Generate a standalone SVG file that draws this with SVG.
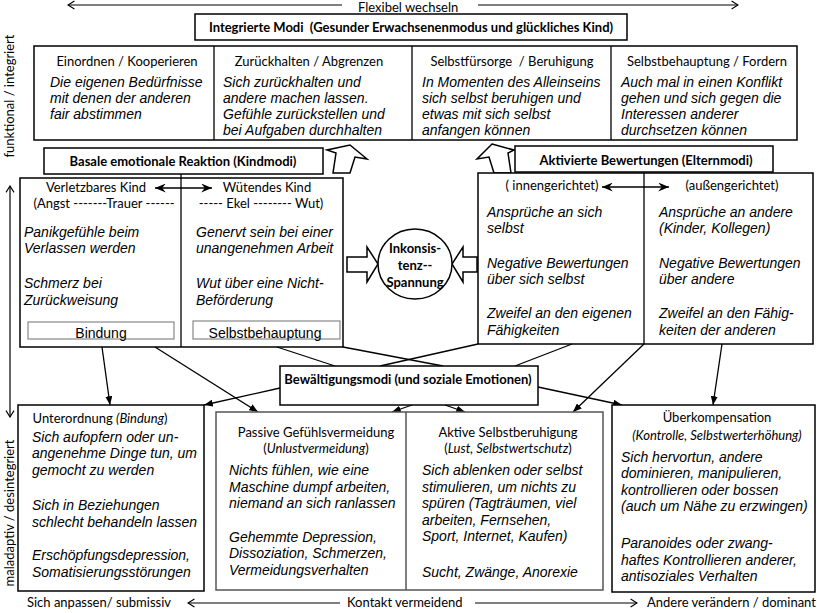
<svg xmlns="http://www.w3.org/2000/svg" width="817" height="613" viewBox="0 0 817 613">
<style>
.bg{fill:#fff}
.box{fill:#fff;stroke:#000;stroke-width:1.5}
.gbox{fill:#fff;stroke:#888;stroke-width:1.2}
.pbox{fill:#fff;stroke:#555;stroke-width:1.5}
.div{stroke:#000;stroke-width:1.3;fill:none}
.c{font-family:Lato,"Open Sans",sans-serif;font-size:13px;fill:#000}
.cb{font-family:Lato,"Open Sans",sans-serif;font-size:13px;font-weight:bold;fill:#000}
.i{font-family:"Liberation Sans",Arial,sans-serif;font-size:14px;font-style:italic;fill:#000}
.a{font-family:"Liberation Sans",Arial,sans-serif;font-size:14px;fill:#000}
.m{text-anchor:middle}
.ln{stroke:#000;stroke-width:1.3;fill:none}
.ax{stroke:#000;stroke-width:1.2;fill:none}
.hol{fill:#fff;stroke:#000;stroke-width:1.5;stroke-linejoin:miter}
</style>
<defs>
<marker id="ah" viewBox="0 0 10 8" refX="10" refY="4" markerWidth="9" markerHeight="7" markerUnits="userSpaceOnUse" orient="auto">
<path d="M0,0 L10,4 L0,8 z" fill="#000"/>
</marker>
<marker id="ch" viewBox="0 0 10 12" refX="9" refY="6" markerWidth="8" markerHeight="10" markerUnits="userSpaceOnUse" orient="auto-start-reverse">
<path d="M1,1 L9,6 L1,11" fill="none" stroke="#000" stroke-width="1.4"/>
</marker>
<marker id="st" viewBox="0 0 12 10" refX="12" refY="5" markerWidth="12" markerHeight="9" markerUnits="userSpaceOnUse" orient="auto-start-reverse">
<path d="M0,0 L12,5 L0,10 L4,5 z" fill="#000"/>
</marker>
</defs>
<rect class="bg" x="0" y="0" width="817" height="613"/>

<g id="axes">
<line class="ax" x1="342" y1="5" x2="68" y2="5" marker-end="url(#ch)"/>
<text class="c" x="358" y="12">Flexibel wechseln</text>
<line class="ax" x1="478" y1="5" x2="738" y2="5" marker-end="url(#ch)"/>
<line class="ax" x1="10" y1="186" x2="10" y2="417" marker-start="url(#ch)" marker-end="url(#ch)"/>
<text class="c m" transform="translate(14,96) rotate(-90)">funktional / integriert</text>
<text class="c m" transform="translate(14,513) rotate(-90)">maladaptiv / desintegriert</text>
<text class="c" x="27" y="607">Sich anpassen/ submissiv</text>
<line class="ax" x1="340" y1="603" x2="188" y2="603" marker-end="url(#ch)"/>
<text class="c" x="347" y="607">Kontakt vermeidend</text>
<line class="ax" x1="475" y1="603" x2="637" y2="603" marker-end="url(#ch)"/>
<text class="c" x="647" y="607">Andere verändern / dominant</text>
</g>

<g id="integrierte-modi">
<rect class="box" x="195" y="14" width="432" height="26"/>
<text class="cb m" x="411" y="32">Integrierte Modi&#160; (Gesunder Erwachsenenmodus und glückliches Kind)</text>
</g>

<g id="top-row">
<rect class="box" x="34" y="46" width="763" height="94"/>
<line class="div" x1="214" y1="46" x2="214" y2="140"/>
<line class="div" x1="412" y1="46" x2="412" y2="140"/>
<line class="div" x1="611" y1="46" x2="611" y2="140"/>
<text class="c m" x="127" y="66">Einordnen / Kooperieren</text>
<text class="i" x="50" y="87">Die eigenen Bedürfnisse</text>
<text class="i" x="50" y="103">mit denen der anderen</text>
<text class="i" x="50" y="119">fair abstimmen</text>
<text class="c m" x="309" y="66">Zurückhalten / Abgrenzen</text>
<text class="i" x="223" y="87">Sich zurückhalten und</text>
<text class="i" x="223" y="103">andere machen lassen.</text>
<text class="i" x="223" y="119">Gefühle zurückstellen und</text>
<text class="i" x="223" y="135">bei Aufgaben durchhalten</text>
<text class="c m" x="512" y="66">Selbstfürsorge&#160; / Beruhigung</text>
<text class="i" x="422" y="87">In Momenten des Alleinseins</text>
<text class="i" x="422" y="103">sich selbst beruhigen und</text>
<text class="i" x="422" y="119">etwas mit sich selbst</text>
<text class="i" x="422" y="135">anfangen können</text>
<text class="c m" x="707" y="66">Selbstbehauptung / Fordern</text>
<text class="i" x="621" y="87">Auch mal in einen Konflikt</text>
<text class="i" x="621" y="103">gehen und sich gegen die</text>
<text class="i" x="621" y="119">Interessen anderer</text>
<text class="i" x="621" y="135">durchsetzen können</text>
</g>

<g id="hollow-arrows">
<polygon class="hol" points="350,145 367,159 355,157 350,173 333,173 336,153 327,150"/>
<polygon class="hol" points="492,144 514,150 508,153 511,173 494,173 489,157 477,159"/>
<polygon class="hol" points="347,257 367,257 367,247 378,264 367,282 367,272 347,272"/>
<polygon class="hol" points="477,257 463,257 463,247 452,264 463,282 463,272 477,272"/>
</g>

<g id="kindmodi">
<rect class="box" x="44" y="148" width="279" height="26"/>
<text class="cb m" x="183" y="166">Basale emotionale Reaktion (Kindmodi)</text>
<rect class="box" x="20" y="178" width="323" height="169"/>
<line class="div" x1="181" y1="174" x2="181" y2="347"/>
<text class="c m" x="96" y="192">Verletzbares Kind</text>
<text class="c m" x="104" y="208">(Angst -------Trauer ------</text>
<text class="c m" x="267" y="192">Wütendes Kind</text>
<text class="c m" x="261" y="208">----- Ekel -------- Wut)</text>
<line class="ln" x1="155" y1="188" x2="212" y2="188" marker-start="url(#st)" marker-end="url(#st)"/>
<text class="i" x="24" y="237">Panikgefühle beim</text>
<text class="i" x="24" y="253">Verlassen werden</text>
<text class="i" x="24" y="288">Schmerz bei</text>
<text class="i" x="24" y="305">Zurückweisung</text>
<text class="i" x="196" y="237">Genervt sein bei einer</text>
<text class="i" x="196" y="253">unangenehmen Arbeit</text>
<text class="i" x="196" y="288">Wut über eine Nicht-</text>
<text class="i" x="196" y="305">Beförderung</text>
<rect class="gbox" x="28" y="322" width="146" height="17"/>
<text class="a m" x="101" y="338">Bindung</text>
<rect class="gbox" x="193" y="321" width="147" height="18"/>
<text class="a m" x="265" y="338">Selbstbehauptung</text>
</g>

<g id="inkonsistenz">
<ellipse class="box" cx="415" cy="264" rx="37" ry="35"/>
<text class="cb m" x="415" y="253">Inkonsis-</text>
<text class="cb m" x="415" y="270">tenz--</text>
<text class="cb m" x="415" y="287">Spannung</text>
</g>

<g id="elternmodi">
<rect class="box" x="515" y="146" width="258" height="26"/>
<text class="cb m" x="646" y="165">Aktivierte Bewertungen (Elternmodi)</text>
<rect class="box" x="478" y="173" width="335" height="171"/>
<line class="div" x1="644" y1="173" x2="644" y2="344"/>
<text class="c m" x="552" y="190">( innengerichtet)</text>
<text class="c m" x="732" y="190">(außengerichtet)</text>
<line class="ln" x1="602" y1="187" x2="669" y2="187" marker-start="url(#st)" marker-end="url(#st)"/>
<text class="i" x="487" y="217">Ansprüche an sich</text>
<text class="i" x="487" y="233">selbst</text>
<text class="i" x="487" y="268">Negative Bewertungen</text>
<text class="i" x="487" y="284">über sich selbst</text>
<text class="i" x="487" y="318">Zweifel an den eigenen</text>
<text class="i" x="487" y="335">Fähigkeiten</text>
<text class="i" x="659" y="217">Ansprüche an andere</text>
<text class="i" x="659" y="233">(Kinder, Kollegen)</text>
<text class="i" x="659" y="268">Negative Bewertungen</text>
<text class="i" x="659" y="284">über andere</text>
<text class="i" x="659" y="318">Zweifel an den Fähig-</text>
<text class="i" x="659" y="335">keiten der anderen</text>
</g>

<g id="connectors">
<line class="ln" x1="277" y1="347" x2="335" y2="366"/>
<line class="ln" x1="343" y1="347" x2="443" y2="366"/>
<line class="ln" x1="478" y1="344" x2="380" y2="366"/>
<line class="ln" x1="572" y1="344" x2="515" y2="366"/>
<line class="ln" x1="102" y1="347" x2="110" y2="405" marker-end="url(#ah)"/>
<line class="ln" x1="155" y1="347" x2="258" y2="412" marker-end="url(#ah)"/>
<line class="ln" x1="280" y1="388" x2="204" y2="405" marker-end="url(#ah)"/>
<line class="ln" x1="412" y1="405" x2="392" y2="412" marker-end="url(#ah)"/>
<line class="ln" x1="445" y1="405" x2="465" y2="412" marker-end="url(#ah)"/>
<line class="ln" x1="538" y1="387" x2="622" y2="405" marker-end="url(#ah)"/>
<line class="ln" x1="644" y1="344" x2="573" y2="412" marker-end="url(#ah)"/>
<line class="ln" x1="722" y1="344" x2="713" y2="405" marker-end="url(#ah)"/>
</g>

<g id="bewaeltigungsmodi">
<rect class="box" x="280" y="366" width="258" height="39"/>
<text class="cb m" x="408" y="384">Bewältigungsmodi (und soziale Emotionen)</text>
</g>

<g id="unterordnung">
<rect class="box" x="18" y="405" width="186" height="186"/>
<text class="c m" x="100" y="423">Unterordnung <tspan font-style="italic">(Bindung</tspan>)</text>
<text class="i" x="32" y="442">Sich aufopfern oder un-</text>
<text class="i" x="32" y="458">angenehme Dinge tun, um</text>
<text class="i" x="32" y="475">gemocht zu werden</text>
<text class="i" x="32" y="510">Sich in Beziehungen</text>
<text class="i" x="32" y="527">schlecht behandeln lassen</text>
<text class="i" x="32" y="560">Erschöpfungsdepression,</text>
<text class="i" x="32" y="577">Somatisierungsstörungen</text>
</g>

<g id="vermeidung">
<rect class="pbox" x="216" y="412" width="387" height="178"/>
<line x1="406" y1="412" x2="406" y2="590" stroke="#555" stroke-width="1.5"/>
<text class="c m" x="316" y="437">Passive Gefühlsvermeidung</text>
<text class="c m" x="316" y="453">(<tspan font-style="italic">Unlustvermeidung</tspan>)</text>
<text class="i" x="229" y="475">Nichts fühlen, wie eine</text>
<text class="i" x="229" y="492">Maschine dumpf arbeiten,</text>
<text class="i" x="229" y="508">niemand an sich ranlassen</text>
<text class="i" x="229" y="542">Gehemmte Depression,</text>
<text class="i" x="229" y="558">Dissoziation, Schmerzen,</text>
<text class="i" x="229" y="575">Vermeidungsverhalten</text>
<text class="c m" x="508" y="437">Aktive Selbstberuhigung</text>
<text class="c m" x="508" y="453">(<tspan font-style="italic">Lust, Selbstwertschutz</tspan>)</text>
<text class="i" x="422" y="475">Sich ablenken oder selbst</text>
<text class="i" x="422" y="492">stimulieren, um nichts zu</text>
<text class="i" x="422" y="508">spüren (Tagträumen, viel</text>
<text class="i" x="422" y="525">arbeiten, Fernsehen,</text>
<text class="i" x="422" y="541">Sport, Internet, Kaufen)</text>
<text class="i" x="422" y="577">Sucht, Zwänge, Anorexie</text>
</g>

<g id="ueberkompensation">
<rect class="box" x="612" y="405" width="203" height="187"/>
<text class="c m" x="717" y="422">Überkompensation</text>
<text class="c m" x="717" y="440" font-style="italic">(Kontrolle, Selbstwerterhöhung)</text>
<text class="i" x="621" y="462">Sich hervortun, andere</text>
<text class="i" x="621" y="478">dominieren, manipulieren,</text>
<text class="i" x="621" y="495">kontrollieren oder bossen</text>
<text class="i" x="621" y="511">(auch um Nähe zu erzwingen)</text>
<text class="i" x="621" y="548">Paranoides oder zwang-</text>
<text class="i" x="621" y="565">haftes Kontrollieren anderer,</text>
<text class="i" x="621" y="581">antisoziales Verhalten</text>
</g>
</svg>
